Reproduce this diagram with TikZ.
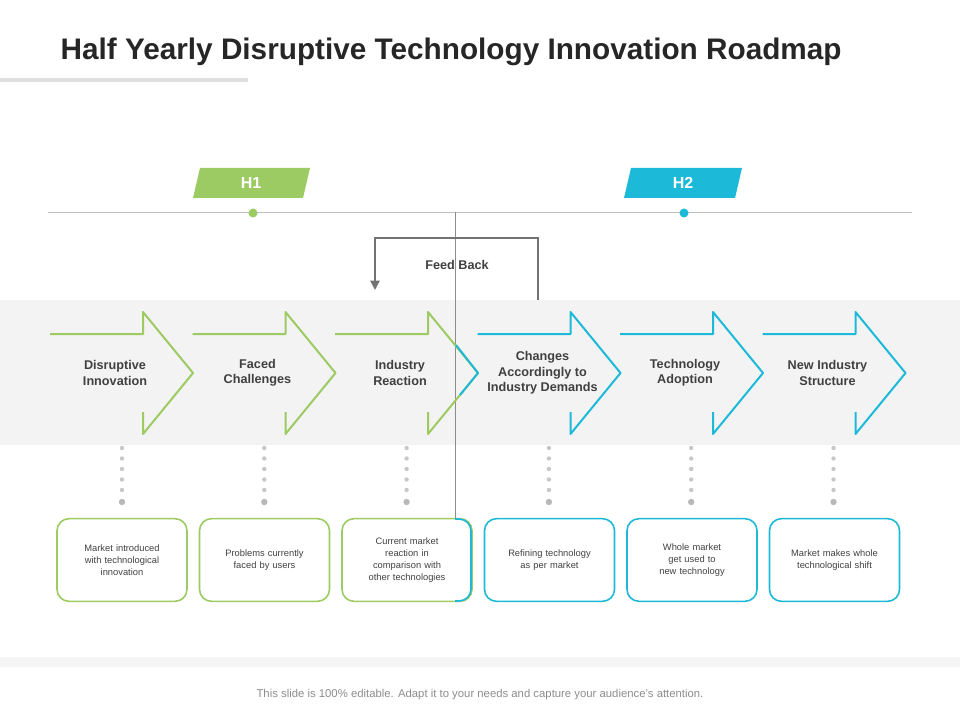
\documentclass[tikz,border=0pt]{standalone}
\usepackage{fontspec}
\setmainfont{Liberation Sans}
\usetikzlibrary{arrows.meta}
\definecolor{hgreen}{HTML}{9CCB63}
\definecolor{hcyan}{HTML}{1DB9D9}
\definecolor{band}{HTML}{F3F3F3}
\definecolor{txt}{HTML}{404040}
\tikzset{
  stepbox/.style={draw=#1, line width=1.2pt, rounded corners=9pt, minimum width=97.5pt, minimum height=62pt, align=center, text width=70pt, font=\fontsize{7}{9}\selectfont, text=txt},
  steptext/.style={align=center, font=\bfseries\fontsize{9.5}{11.5}\selectfont, text=txt},
  halftag/.style={fill=#1}
}
\hyphenpenalty=10000
\begin{document}
\hyphenpenalty=10000
\begin{tikzpicture}[x=0.75pt, y=-0.75pt]
\useasboundingbox (0,0) rectangle (960,720);

% Title
\node[anchor=west, font=\bfseries\fontsize{22.3}{26}\selectfont, text=black!85] (title) at (56,52) {Half Yearly Disruptive Technology Innovation Roadmap};
\fill[black!12] (0,78) rectangle (248,82);

% Timeline
\draw[black!25, line width=0.6pt] (48,212) -- (912,212);
\fill[halftag=hgreen] (200,168) -- (310,168) -- (303,198) -- (193,198) -- cycle;
\node[text=white, font=\bfseries\fontsize{12}{14}\selectfont] (h1) at (251,183) {H1};
\fill[halftag=hcyan] (631,168) -- (742,168) -- (735,198) -- (624,198) -- cycle;
\node[text=white, font=\bfseries\fontsize{12}{14}\selectfont] (h2) at (683,183) {H2};
\fill[hgreen] (253,213) circle (4.5);
\fill[hcyan] (684,213) circle (4.5);

% Band
\fill[band] (0,300) rectangle (960,445);

% Feed back
\draw[black!45, line width=0.6pt] (455,212) -- (455,518);
\draw[black!55, line width=1.2pt, -{Triangle[length=7pt,width=7pt]}] (538,300) -- (538,238) -- (375,238) -- (375,290);
\node[steptext] (fb) at (457,265) {Feed Back};

% Arrows
\foreach \i/\c/\t in {0/hgreen/{Disruptive\\Innovation}, 1/hgreen/{Faced\\Challenges}, 2/hgreen/{Industry\\Reaction}, 3/hcyan/{Changes\\Accordingly to\\Industry Demands}, 4/hcyan/{Technology\\Adoption}, 5/hcyan/{New Industry\\Structure}} {
  \pgfmathsetmacro\xa{50+142.5*\i}
  \draw[\c, line width=1.5pt, line join=round] (\xa,334) -- (\xa+93,334) -- (\xa+93,312) -- (\xa+143,373) -- (\xa+93,434) -- (\xa+93,412);
  \node[steptext] (arr\i) at (\xa+65,373) {\t};
}
\draw[hcyan, line width=1.5pt, line join=round] (456,345) -- (478,373) -- (460,395);

% Dots
\foreach \i in {0,...,5} {
  \pgfmathsetmacro\xd{122+142.3*\i}
  \foreach \j in {0,...,4} \fill[black!22] (\xd,448+10.5*\j) circle (2.2);
  \fill[black!28] (\xd,502) circle (3.2);
}

% Boxes
\foreach \i/\c/\t in {0/hgreen/{Market introduced with technological innovation}, 1/hgreen/{Problems currently faced by users}, 2/hgreen/{Current market reaction in comparison with other technologies}, 3/hcyan/{Refining technology as per market}, 4/hcyan/{Whole market get used to new technology}, 5/hcyan/{Market makes whole technological shift}} {
  \pgfmathsetmacro\xb{122+142.5*\i}
  \node[stepbox=\c] (box\i) at (\xb,560) {\t};
}
\draw[hcyan, line width=1.2pt, rounded corners=9pt] (455,519) -- (471,519) -- (471,601) -- (455,601);

% Footer
\fill[black!4] (0,657) rectangle (960,667);
\node[text=black!45, font=\fontsize{8.5}{10}\selectfont] (foot) at (480,695) {This slide is 100\% editable. Adapt it to your needs and capture your audience’s attention.};
\end{tikzpicture}
\end{document}
